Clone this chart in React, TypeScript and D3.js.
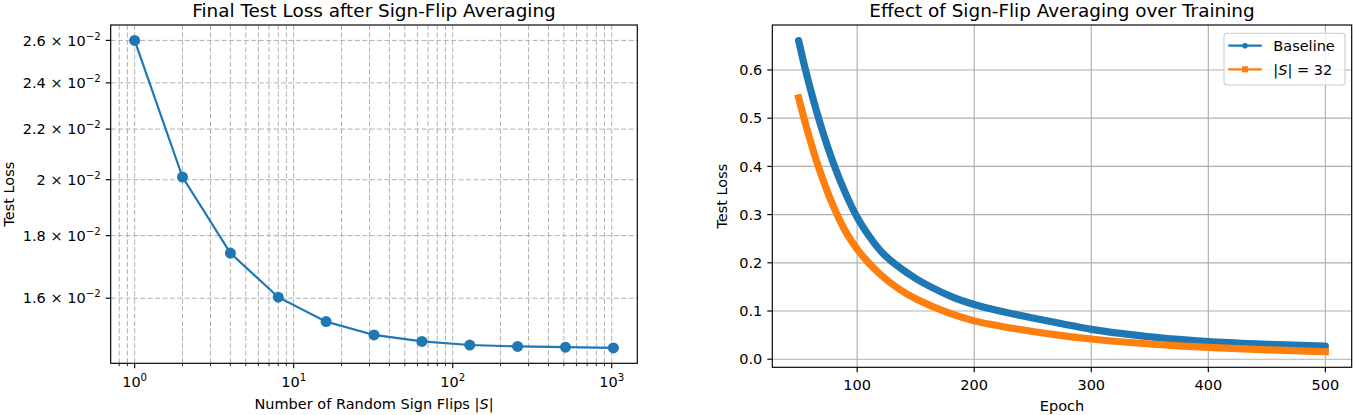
import React from "react";
import * as d3 from "d3";

// ---------- data ----------
const flipCounts = [1, 2, 4, 8, 16, 32, 64, 128, 256, 512, 1024];
const finalTestLoss = [0.026, 0.0201, 0.01742, 0.01603, 0.01531, 0.01493, 0.01475, 0.01465, 0.01461, 0.01459, 0.01457];
const leftYTickValues = [0.026, 0.024, 0.022, 0.02, 0.018, 0.016];
const leftYTickMantissa = ["2.6", "2.4", "2.2", "2", "1.8", "1.6"];

const epochs = [50, 55, 60, 65, 70, 75, 80, 90, 100, 110, 120, 135, 150, 165, 180, 200, 225, 250, 275, 300, 325, 350, 375, 400, 450, 500];
const baselineLoss = [0.661, 0.6085, 0.561, 0.517, 0.4765, 0.439, 0.4045, 0.3445, 0.2945, 0.256, 0.2245, 0.1925, 0.1675, 0.1475, 0.1305, 0.1135, 0.0985, 0.0855, 0.0735, 0.062, 0.0535, 0.0465, 0.041, 0.0365, 0.031, 0.027];
const signFlipLoss = [0.542, 0.496, 0.453, 0.4135, 0.3775, 0.345, 0.3155, 0.2655, 0.2285, 0.1995, 0.1755, 0.147, 0.1253, 0.1088, 0.0945, 0.0795, 0.0675, 0.0575, 0.049, 0.042, 0.0362, 0.0315, 0.0277, 0.0245, 0.0195, 0.0155];
const rightXTicks = [100, 200, 300, 400, 500];
const rightYTicks = [0, 0.1, 0.2, 0.3, 0.4, 0.5, 0.6];
const seriesNames = ["Baseline", "|S| = 32"];

// ---------- style ----------
const FONT = "DejaVu Sans, sans-serif";
const BLUE = "#1f77b4";
const ORANGE = "#ff7f0e";
const GRID = "#b0b0b0";
const TICK_FS = 14.5;
const TITLE_FS = 18.4;

const L = { left: 110.7, right: 637.3, top: 25, bottom: 363.3 };
const R = { left: 772.3, right: 1351.7, top: 25, bottom: 367.3 };

function padLinear(ext: [number, number], f = 0.05): [number, number] {
  const d = ext[1] - ext[0];
  return [ext[0] - d * f, ext[1] + d * f];
}
function padLog(ext: [number, number], f = 0.05): [number, number] {
  const a = Math.log10(ext[0]);
  const b = Math.log10(ext[1]);
  const d = b - a;
  return [Math.pow(10, a - d * f), Math.pow(10, b + d * f)];
}

export default function App() {
  // left scales
  const lx = d3.scaleLog().domain(padLog(d3.extent(flipCounts) as [number, number])).range([L.left, L.right]);
  const ly = d3.scaleLog().domain(padLog(d3.extent(finalTestLoss) as [number, number])).range([L.bottom, L.top]);
  const lxTicks = lx.ticks();
  const isMajor = (v: number) => Math.abs(Math.log10(v) - Math.round(Math.log10(v))) < 1e-9;
  const leftLine = d3.line<number>().x((_, i) => lx(flipCounts[i])).y((d) => ly(d));

  // right scales
  const allRight = [...baselineLoss, ...signFlipLoss];
  const rx = d3.scaleLinear().domain(padLinear(d3.extent(epochs) as [number, number])).range([R.left, R.right]);
  const ry = d3.scaleLinear().domain(padLinear(d3.extent(allRight) as [number, number])).range([R.bottom, R.top]);
  const rLine = d3
    .line<number>()
    .x((_, i) => rx(epochs[i]))
    .y((d) => ry(d))
    .curve(d3.curveMonotoneX);

  const spine = { stroke: "#000", strokeWidth: 1.16, fill: "none" };

  return (
    <svg width={1355} height={415} style={{ position: "absolute", left: 0, top: 0, background: "#fff" }} fontFamily={FONT}>
      <rect x={0} y={0} width={1355} height={415} fill="#fff" />

      {/* ================= LEFT PLOT ================= */}
      <g>
        {lxTicks.map((t, i) => (
          <line key={"lgx" + i} x1={lx(t)} x2={lx(t)} y1={L.top} y2={L.bottom} stroke={GRID} strokeWidth={1.0} strokeDasharray="5,2.4" />
        ))}
        {leftYTickValues.map((t, i) => (
          <line key={"lgy" + i} x1={L.left} x2={L.right} y1={ly(t)} y2={ly(t)} stroke={GRID} strokeWidth={1.0} strokeDasharray="5,2.4" />
        ))}
        <path d={leftLine(finalTestLoss) || ""} fill="none" stroke={BLUE} strokeWidth={2.2} />
        {finalTestLoss.map((v, i) => (
          <circle key={"lm" + i} cx={lx(flipCounts[i])} cy={ly(v)} r={5.5} fill={BLUE} />
        ))}
        <rect x={L.left} y={L.top} width={L.right - L.left} height={L.bottom - L.top} {...spine} />
        {lxTicks.map((t, i) => (
          <line key={"ltx" + i} x1={lx(t)} x2={lx(t)} y1={L.bottom} y2={L.bottom + (isMajor(t) ? 5 : 2.9)} stroke="#000" strokeWidth={isMajor(t) ? 1.16 : 0.87} />
        ))}
        {lxTicks.filter(isMajor).map((t, i) => (
          <text key={"ltxl" + i} x={lx(t)} y={L.bottom + 24} textAnchor="middle" fontSize={TICK_FS} fill="#000">
            10<tspan dy={-6} fontSize={10.2}>{String(Math.round(Math.log10(t)))}</tspan>
          </text>
        ))}
        {leftYTickValues.map((t, i) => (
          <g key={"lty" + i}>
            <line x1={L.left - 5} x2={L.left} y1={ly(t)} y2={ly(t)} stroke="#000" strokeWidth={1.16} />
            <text x={L.left - 10} y={ly(t) + 5.2} textAnchor="end" fontSize={TICK_FS} fill="#000">
              {leftYTickMantissa[i]} × 10<tspan dy={-6} fontSize={10.2}>−2</tspan>
            </text>
          </g>
        ))}
        <text x={(L.left + L.right) / 2} y={16.5} textAnchor="middle" fontSize={TITLE_FS} fill="#000">
          Final Test Loss after Sign-Flip Averaging
        </text>
        <text x={(L.left + L.right) / 2} y={409} textAnchor="middle" fontSize={TICK_FS} fill="#000">
          Number of Random Sign Flips |<tspan fontStyle="italic">S</tspan>|
        </text>
        <text transform={`translate(13.5,${(L.top + L.bottom) / 2}) rotate(-90)`} textAnchor="middle" fontSize={TICK_FS} fill="#000">
          Test Loss
        </text>
      </g>

      {/* ================= RIGHT PLOT ================= */}
      <g>
        {rightXTicks.map((t, i) => (
          <line key={"rgx" + i} x1={rx(t)} x2={rx(t)} y1={R.top} y2={R.bottom} stroke={GRID} strokeWidth={1.16} />
        ))}
        {rightYTicks.map((t, i) => (
          <line key={"rgy" + i} x1={R.left} x2={R.right} y1={ry(t)} y2={ry(t)} stroke={GRID} strokeWidth={1.16} />
        ))}
        <path d={rLine(baselineLoss) || ""} fill="none" stroke={BLUE} strokeWidth={7.2} strokeLinecap="round" strokeLinejoin="round" />
        <path d={rLine(signFlipLoss) || ""} fill="none" stroke={ORANGE} strokeWidth={7.2} strokeLinecap="square" strokeLinejoin="round" />
        <rect x={R.left} y={R.top} width={R.right - R.left} height={R.bottom - R.top} {...spine} />
        {rightXTicks.map((t, i) => (
          <g key={"rtx" + i}>
            <line x1={rx(t)} x2={rx(t)} y1={R.bottom} y2={R.bottom + 5} stroke="#000" strokeWidth={1.16} />
            <text x={rx(t)} y={R.bottom + 22.7} textAnchor="middle" fontSize={TICK_FS} fill="#000">
              {t}
            </text>
          </g>
        ))}
        {rightYTicks.map((t, i) => (
          <g key={"rty" + i}>
            <line x1={R.left - 5} x2={R.left} y1={ry(t)} y2={ry(t)} stroke="#000" strokeWidth={1.16} />
            <text x={R.left - 10} y={ry(t) + 5.2} textAnchor="end" fontSize={TICK_FS} fill="#000">
              {d3.format(".1f")(t)}
            </text>
          </g>
        ))}
        <text x={(R.left + R.right) / 2} y={16.5} textAnchor="middle" fontSize={TITLE_FS} fill="#000">
          Effect of Sign-Flip Averaging over Training
        </text>
        <text x={(R.left + R.right) / 2} y={410.5} textAnchor="middle" fontSize={TICK_FS} fill="#000">
          Epoch
        </text>
        <text transform={`translate(727,${(R.top + R.bottom) / 2}) rotate(-90)`} textAnchor="middle" fontSize={TICK_FS} fill="#000">
          Test Loss
        </text>

        <g>
          <rect x={1224} y={33.3} width={121} height={51.7} rx={3} fill="#fff" fillOpacity={0.8} stroke="#cccccc" strokeWidth={1.1} />
          <line x1={1228.3} x2={1261.7} y1={45.7} y2={45.7} stroke={BLUE} strokeWidth={2.2} />
          <circle cx={1245} cy={45.7} r={2.8} fill={BLUE} />
          <text x={1273.3} y={50.9} fontSize={TICK_FS} fill="#000">{seriesNames[0]}</text>
          <line x1={1228.3} x2={1261.7} y1={69.3} y2={69.3} stroke={ORANGE} strokeWidth={2.2} />
          <rect x={1242} y={66.3} width={6} height={6} fill={ORANGE} />
          <text x={1273.3} y={74.5} fontSize={TICK_FS} fill="#000">
            |<tspan fontStyle="italic">S</tspan>| = 32
          </text>
        </g>
      </g>
    </svg>
  );
}
